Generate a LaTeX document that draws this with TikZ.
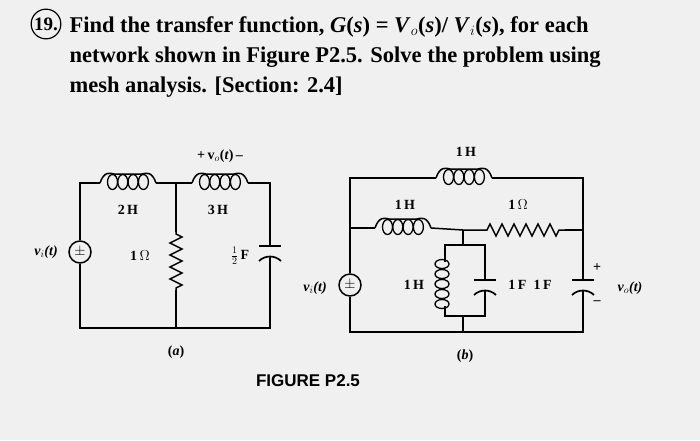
\documentclass[tikz,border=0pt]{standalone}
\usepackage{fontspec}
\setmainfont{Liberation Serif}
\newfontfamily\sansf{Liberation Sans}
\usetikzlibrary{decorations.pathmorphing}
\tikzset{
  w/.style={line width=1.5pt},
  lp/.style={line width=1.3pt},
  res/.style={w,decorate,decoration={zigzag,segment length=12pt,amplitude=6pt,pre length=2pt,post length=2pt}},
  src/.style={circle,draw,line width=1.5pt,minimum size=22pt,inner sep=0pt,font=\fontsize{15}{15}\selectfont\bfseries},
  lbl/.style={font=\bfseries\fontsize{14}{16}\selectfont},
  plate/.style={line width=1.7pt}
}
% horizontal coil: #1 = left x, #2 = y  (width 56)
\newcommand\myhcoil[2]{%
  \draw[w] (#1,#2) .. controls (#1+4,#2-12) and (#1+10,#2-10) .. (#1+14,#2-9)
     -- (#1+42,#2-9) .. controls (#1+46,#2-10) and (#1+52,#2-12) .. (#1+56,#2);
  \foreach \k in {0,1,2,3}{\draw[lp] (#1+12.5+10.3*\k,#2-1) ellipse [x radius=5,y radius=7.5];}}
% vertical coil: #1 = x, #2 = top y (height 56), bulging left
\newcommand\myvcoil[2]{%
  \draw[w] (#1,#2) -- (#1,#2+6);
  \draw[w] (#1,#2+50) -- (#1,#2+56);
  \foreach \k in {0,1,2,3,4}{\draw[lp] (#1-3,#2+8+10*\k) ellipse [x radius=7,y radius=4.5];}}
\begin{document}
\begin{tikzpicture}[x=1pt,y=-1pt]
\useasboundingbox (0,0) rectangle (700,440);
\fill[black!6] (0,0) rectangle (700,440);
% title
\node[circle,draw,line width=1.2pt,inner sep=1pt,font=\bfseries\fontsize{19}{20}\selectfont] (num) at (46,24) {19.};
\node[anchor=west,font=\bfseries\fontsize{22.5}{24}\selectfont] (t1) at (66,27) {Find the transfer function, \textit{G}(\textit{s}) = \textit{V}$_o$(\textit{s})/ \textit{V}$_i$(\textit{s}), for each};
\node[anchor=west,font=\bfseries\fontsize{22.5}{24}\selectfont] (t2) at (66,57) {network shown in Figure P2.5. Solve the problem using};
\node[anchor=west,font=\bfseries\fontsize{22.5}{24}\selectfont] (t3) at (66,87) {mesh analysis. [Section: 2.4]};
% ---- circuit a
\node[src] (sa) at (80,252) {$\pm$};
\coordinate (a1) at (80,183); \coordinate (a2) at (176,183); \coordinate (a3) at (270,183);
\coordinate (a4) at (80,328); \coordinate (a5) at (176,328); \coordinate (a6) at (270,328);
\coordinate (la1) at (100,183); \coordinate (la2) at (156,183);
\coordinate (lb1) at (192,183); \coordinate (lb2) at (248,183);
\coordinate (r1) at (176,232); \coordinate (r2) at (176,290);
\draw[w] (sa) -- (a1) -- (la1); \myhcoil{100}{183} \draw[w] (la2) -- (a2) -- (lb1);
\myhcoil{192}{183} \draw[w] (lb2) -- (a3) -- (270,246);
\draw[plate] (259,246) -- (281,246);
\draw[plate] (259,261) .. controls (265,255) and (275,255) .. (281,261);
\draw[w] (270,256) -- (a6) -- (a4) -- (sa);
\draw[w] (a2) -- (r1); \draw[res] (r1) -- (r2); \draw[w] (r2) -- (a5);
\node[lbl] (a2h) at (128,210) {2\,H};
\node[lbl] (a3h) at (218,210) {3\,H};
\node[lbl] (ar) at (140,256) {1\,$\Omega$};
\node[lbl] (acf) at (240,256) {$\frac{1}{2}$\,F};
\node[lbl] (avo) at (220,156) {+\,v$_o$(\textit{t})\,–};
\node[font=\bfseries\fontsize{14}{16}\selectfont\itshape] (avi) at (46,252) {v$_i$(t)};
\node[lbl] (alab) at (176,352) {(\textit{a})};
% ---- circuit b
\node[src] (sb) at (350,285) {$\pm$};
\coordinate (b1) at (350,178); \coordinate (b2) at (583,178);
\coordinate (b3) at (350,228); \coordinate (bj) at (463,230); \coordinate (b4) at (583,230);
\coordinate (b5) at (350,332); \coordinate (b6) at (583,332); \coordinate (bb) at (463,332);
\draw[w] (sb) -- (b1) -- (436,178); \myhcoil{436}{178} \draw[w] (492,178) -- (b2) -- (b4);
\draw[w] (b3) -- (375,228); \myhcoil{375}{228} \draw[w] (431,228) -- (bj) -- (485,230);
\draw[res] (485,230) -- (565,230); \draw[w] (565,230) -- (b4) -- (583,280);
\draw[plate] (572,280) -- (594,280);
\draw[plate] (572,295) .. controls (578,289) and (588,289) .. (594,295);
\draw[w] (583,290) -- (b6) -- (b5) -- (sb);
\draw[w] (bj) -- (463,245) -- (485,245) -- (485,280);
\draw[w] (463,245) -- (445,245) -- (445,256);
\myvcoil{445}{256}
\draw[w] (445,312) -- (445,316) -- (485,316) -- (485,290);
\draw[plate] (474,280) -- (496,280);
\draw[plate] (474,295) .. controls (480,289) and (490,289) .. (496,295);
\draw[w] (463,316) -- (bb);
\node[lbl] (bh1) at (466,152) {1\,H};
\node[lbl] (bh2) at (405,205) {1\,H};
\node[lbl] (br) at (518,205) {1\,$\Omega$};
\node[lbl] (bh3) at (414,285) {1\,H};
\node[lbl] (bf) at (530,285) {1\,F\; 1\,F};
\node[lbl] (bp) at (597,268) {+};
\node[lbl] (bm) at (597,303) {–};
\node[font=\bfseries\fontsize{14}{16}\selectfont\itshape] (bvo) at (630,288) {v$_o$(t)};
\node[font=\bfseries\fontsize{14}{16}\selectfont\itshape] (bvi) at (315,288) {v$_i$(t)};
\node[lbl] (blab) at (465,356) {(\textit{b})};
\node[font=\sansf\bfseries\fontsize{17}{20}\selectfont] (fig) at (308,381) {FIGURE P2.5};
\end{tikzpicture}
\end{document}
